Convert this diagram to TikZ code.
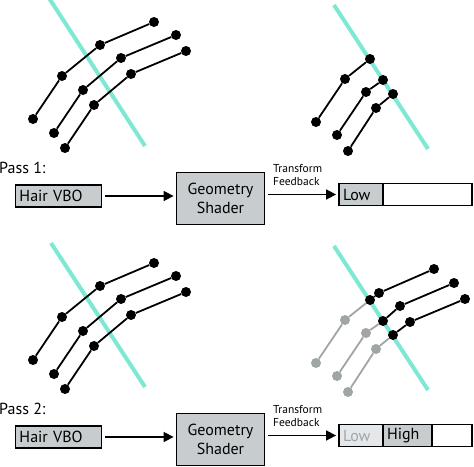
\documentclass[tikz,border=0pt]{standalone}
\usepackage{fontspec}
\setmainfont{PT Sans}
\usetikzlibrary{arrows.meta}
\definecolor{boxgray}{RGB}{199,204,206}
\definecolor{lowfill}{RGB}{229,232,234}
\definecolor{lowtext}{RGB}{160,165,168}
\definecolor{strandgray}{RGB}{160,165,165}
\definecolor{cutcyan}{RGB}{125,232,212}
\begin{document}
\begin{tikzpicture}[x=1pt,y=-1pt,
  dot/.style={circle,fill=black,inner sep=0pt,minimum size=10pt},
  gdot/.style={dot,fill=strandgray},
  strand/.style={line width=1.8pt},
  gstrand/.style={strand,draw=strandgray},
  cut/.style={line width=4pt,draw=cutcyan},
  box/.style={draw=black,line width=1.8pt,fill=boxgray,inner sep=0pt},
  lbox/.style={box,inner xsep=4pt,align=left,font=\fontsize{16}{18}\selectfont,minimum height=22pt},
  flow/.style={line width=1.6pt,-{Triangle[length=10pt,width=10pt]},shorten <=3pt,shorten >=2pt},
  lbl/.style={font=\fontsize{16}{18}\selectfont,inner sep=0pt},
  small/.style={font=\fontsize{11.5}{13}\selectfont,align=left,inner sep=0pt}]
\clip (0,0) rectangle (474,466);
\fill[white] (0,0) rectangle (474,466);

% ---------- top-left strands ----------
\coordinate (c1a) at (49,-2);
\coordinate (c1b) at (145,146);
\draw[cut] (c1a) -- (c1b);
\node[dot] (a11) at (33,119) {};
\node[dot] (a12) at (62,76) {};
\node[dot] (a13) at (100,45) {};
\node[dot] (a14) at (154,22) {};
\node[dot] (a21) at (54,133) {};
\node[dot] (a22) at (83,90) {};
\node[dot] (a23) at (121,58) {};
\node[dot] (a24) at (176,35) {};
\node[dot] (a31) at (65,148) {};
\node[dot] (a32) at (94,105) {};
\node[dot] (a33) at (131,74) {};
\node[dot] (a34) at (186,51) {};
\draw[strand] (a11) -- (a12) -- (a13) -- (a14);
\draw[strand] (a21) -- (a22) -- (a23) -- (a24);
\draw[strand] (a31) -- (a32) -- (a33) -- (a34);

% ---------- top-right strands ----------
\coordinate (c2a) at (334,5);
\coordinate (c2b) at (428,149);
\draw[cut] (c2a) -- (c2b);
\node[dot] (b11) at (316,122) {};
\node[dot] (b12) at (345,79) {};
\node[dot] (b13) at (370,59) {};
\node[dot] (b21) at (337,135) {};
\node[dot] (b22) at (366,92) {};
\node[dot] (b23) at (383,80) {};
\node[dot] (b31) at (348,151) {};
\node[dot] (b32) at (376,108) {};
\node[dot] (b33) at (393,94) {};
\draw[strand] (b11) -- (b12) -- (b13);
\draw[strand] (b21) -- (b22) -- (b23);
\draw[strand] (b31) -- (b32) -- (b33);

% ---------- pass 1 ----------
\node[lbl,anchor=base west] (p1) at (-1,173) {Pass 1:};
\node[lbox,text width=78pt] (vbo1) at (58.5,196) {Hair VBO};
\node[box,align=center,minimum width=88pt,minimum height=52pt,
      font=\fontsize{16}{19}\selectfont] (gs1) at (220.5,198.5) {Geometry\\Shader};
\node[small,anchor=west] (tf1) at (273,175.5) {Transform\\Feedback};
\node[lbox,text width=36pt] (lo1) at (361,194.5) {Low};
\node[box,fill=white,minimum width=89pt,minimum height=22pt] (re1) at (427.5,194.5) {};
\draw[flow] (vbo1.east) -- (vbo1.east -| gs1.west);
\draw[flow] (gs1.east |- lo1.west) -- (lo1.west);

% ---------- bottom-left strands ----------
\coordinate (c3a) at (51,243);
\coordinate (c3b) at (145,387);
\draw[cut] (c3a) -- (c3b);
\node[dot] (d11) at (33,360) {};
\node[dot] (d12) at (62,317) {};
\node[dot] (d13) at (100,286) {};
\node[dot] (d14) at (154,263) {};
\node[dot] (d21) at (54,374) {};
\node[dot] (d22) at (83,331) {};
\node[dot] (d23) at (121,299) {};
\node[dot] (d24) at (176,276) {};
\node[dot] (d31) at (65,389) {};
\node[dot] (d32) at (94,346) {};
\node[dot] (d33) at (131,315) {};
\node[dot] (d34) at (186,292) {};
\draw[strand] (d11) -- (d12) -- (d13) -- (d14);
\draw[strand] (d21) -- (d22) -- (d23) -- (d24);
\draw[strand] (d31) -- (d32) -- (d33) -- (d34);

% ---------- bottom-right strands ----------
\coordinate (c4a) at (334,246);
\coordinate (c4b) at (428,390);
\draw[cut] (c4a) -- (c4b);
\node[gdot] (e11) at (316,363) {};
\node[gdot] (e12) at (345,320) {};
\node[gdot] (e21) at (337,376) {};
\node[gdot] (e22) at (366,333) {};
\node[gdot] (e31) at (348,392) {};
\node[gdot] (e32) at (376,349) {};
\node[dot] (e13) at (370,300) {};
\node[dot] (e14) at (379,293) {};
\node[dot] (e15) at (434,269) {};
\node[dot] (e23) at (383,321) {};
\node[dot] (e24) at (400,306) {};
\node[dot] (e25) at (454,283) {};
\node[dot] (e33) at (393,335) {};
\node[dot] (e34) at (410,322) {};
\node[dot] (e35) at (465,299) {};
\draw[gstrand] (e11) -- (e12) -- (e13);
\draw[gstrand] (e21) -- (e22) -- (e23);
\draw[gstrand] (e31) -- (e32) -- (e33);
\draw[strand] (e13) -- (e14) -- (e15);
\draw[strand] (e23) -- (e24) -- (e25);
\draw[strand] (e33) -- (e34) -- (e35);

% ---------- pass 2 ----------
\node[lbl,anchor=base west] (p2) at (-1,414) {Pass 2:};
\node[lbox,text width=78pt] (vbo2) at (58.5,437) {Hair VBO};
\node[box,align=center,minimum width=88pt,minimum height=52pt,
      font=\fontsize{16}{19}\selectfont] (gs2) at (220.5,439.5) {Geometry\\Shader};
\node[small,anchor=west] (tf2) at (273,416.5) {Transform\\Feedback};
\node[lbox,text width=36pt,fill=lowfill,text=lowtext] (lo2) at (361,435.5) {Low};
\node[lbox,text width=41pt] (hi2) at (407.5,435.5) {High};
\node[box,fill=white,minimum width=40pt,minimum height=22pt] (re2) at (452,435.5) {};
\draw[flow] (vbo2.east) -- (vbo2.east -| gs2.west);
\draw[flow] (gs2.east |- lo2.west) -- (lo2.west);
\end{tikzpicture}
\end{document}
